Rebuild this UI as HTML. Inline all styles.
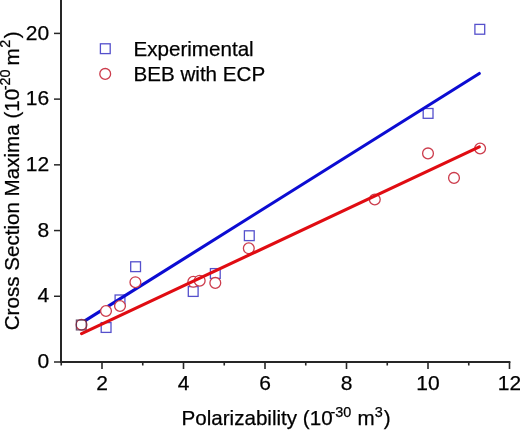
<!DOCTYPE html><html><head><meta charset="utf-8"><style>html,body{margin:0;padding:0;background:#fff;}svg{display:block;}text{font-family:"Liberation Sans",Arial,sans-serif;fill:#000;stroke:#000;stroke-width:0.25px;}</style></head><body>
<svg width="520" height="430" viewBox="0 0 520 430">
<rect width="520" height="430" fill="#fff"/>
<rect x="101.20" y="322.60" width="9.8" height="9.8" fill="none" stroke="#5550cc" stroke-width="1.3"/>
<rect x="115.10" y="295.00" width="9.8" height="9.8" fill="none" stroke="#5550cc" stroke-width="1.3"/>
<rect x="130.70" y="261.80" width="9.8" height="9.8" fill="none" stroke="#5550cc" stroke-width="1.3"/>
<rect x="188.30" y="286.60" width="9.8" height="9.8" fill="none" stroke="#5550cc" stroke-width="1.3"/>
<rect x="210.40" y="268.60" width="9.8" height="9.8" fill="none" stroke="#5550cc" stroke-width="1.3"/>
<rect x="244.40" y="230.80" width="9.8" height="9.8" fill="none" stroke="#5550cc" stroke-width="1.3"/>
<rect x="423.20" y="108.50" width="9.8" height="9.8" fill="none" stroke="#5550cc" stroke-width="1.3"/>
<rect x="474.90" y="24.40" width="9.8" height="9.8" fill="none" stroke="#5550cc" stroke-width="1.3"/>
<line x1="81.6" y1="322.9" x2="479.3" y2="73.5" stroke="#0c0cd2" stroke-width="3.1" stroke-linecap="round"/>
<circle cx="81.5" cy="324.7" r="5.4" fill="#fff" stroke="#cc3c4c" stroke-width="1.3"/>
<circle cx="106.0" cy="311.0" r="5.4" fill="#fff" stroke="#cc3c4c" stroke-width="1.3"/>
<circle cx="120.0" cy="306.0" r="5.4" fill="#fff" stroke="#cc3c4c" stroke-width="1.3"/>
<circle cx="135.4" cy="282.2" r="5.4" fill="#fff" stroke="#cc3c4c" stroke-width="1.3"/>
<circle cx="193.3" cy="281.8" r="5.4" fill="#fff" stroke="#cc3c4c" stroke-width="1.3"/>
<circle cx="199.7" cy="280.7" r="5.4" fill="#fff" stroke="#cc3c4c" stroke-width="1.3"/>
<circle cx="215.3" cy="282.9" r="5.4" fill="#fff" stroke="#cc3c4c" stroke-width="1.3"/>
<circle cx="248.8" cy="248.3" r="5.4" fill="#fff" stroke="#cc3c4c" stroke-width="1.3"/>
<circle cx="374.8" cy="199.5" r="5.4" fill="#fff" stroke="#cc3c4c" stroke-width="1.3"/>
<circle cx="428.0" cy="153.4" r="5.4" fill="#fff" stroke="#cc3c4c" stroke-width="1.3"/>
<circle cx="454.0" cy="177.9" r="5.4" fill="#fff" stroke="#cc3c4c" stroke-width="1.3"/>
<circle cx="480.1" cy="148.5" r="5.4" fill="#fff" stroke="#cc3c4c" stroke-width="1.3"/>
<rect x="76.40" y="320.10" width="9.8" height="9.8" fill="none" stroke="#4a3050" stroke-width="1.3" stroke-opacity="0.8"/>
<line x1="81.6" y1="333.7" x2="479.3" y2="146.8" stroke="#e00c12" stroke-width="3.1" stroke-linecap="round"/>
<g stroke="#262626" fill="none">
<line x1="61" y1="0" x2="61" y2="363" stroke-width="2"/>
<line x1="60" y1="362" x2="510.4" y2="362" stroke-width="2"/>
<line x1="54" y1="362.00" x2="61" y2="362.00" stroke-width="1.5"/>
<line x1="54" y1="296.28" x2="61" y2="296.28" stroke-width="1.5"/>
<line x1="54" y1="230.56" x2="61" y2="230.56" stroke-width="1.5"/>
<line x1="54" y1="164.84" x2="61" y2="164.84" stroke-width="1.5"/>
<line x1="54" y1="99.12" x2="61" y2="99.12" stroke-width="1.5"/>
<line x1="54" y1="33.40" x2="61" y2="33.40" stroke-width="1.5"/>
<line x1="61.25" y1="362" x2="61.25" y2="365.5" stroke-width="1.6"/>
<line x1="102.00" y1="362" x2="102.00" y2="369" stroke-width="1.6"/>
<line x1="142.75" y1="362" x2="142.75" y2="365.5" stroke-width="1.6"/>
<line x1="183.50" y1="362" x2="183.50" y2="369" stroke-width="1.6"/>
<line x1="224.25" y1="362" x2="224.25" y2="365.5" stroke-width="1.6"/>
<line x1="265.00" y1="362" x2="265.00" y2="369" stroke-width="1.6"/>
<line x1="305.75" y1="362" x2="305.75" y2="365.5" stroke-width="1.6"/>
<line x1="346.50" y1="362" x2="346.50" y2="369" stroke-width="1.6"/>
<line x1="387.25" y1="362" x2="387.25" y2="365.5" stroke-width="1.6"/>
<line x1="428.00" y1="362" x2="428.00" y2="369" stroke-width="1.6"/>
<line x1="468.75" y1="362" x2="468.75" y2="365.5" stroke-width="1.6"/>
<line x1="509.50" y1="362" x2="509.50" y2="369" stroke-width="1.6"/>
</g>
<g font-size="21" text-anchor="end">
<text x="49.2" y="368.10">0</text>
<text x="49.2" y="302.38">4</text>
<text x="49.2" y="236.66">8</text>
<text x="49.2" y="170.94">12</text>
<text x="49.2" y="105.22">16</text>
<text x="49.2" y="39.50">20</text>
</g>
<g font-size="21" text-anchor="middle">
<text x="102.00" y="389.9">2</text>
<text x="183.50" y="389.9">4</text>
<text x="265.00" y="389.9">6</text>
<text x="346.50" y="389.9">8</text>
<text x="428.00" y="389.9">10</text>
<text x="509.50" y="389.9">12</text>
</g>
<rect x="100.40" y="43.80" width="9.8" height="9.8" fill="none" stroke="#5550cc" stroke-width="1.3"/>
<circle cx="105.2" cy="73.9" r="5.4" fill="none" stroke="#cc3c4c" stroke-width="1.3"/>
<text x="133.5" y="55.9" font-size="20.6">Experimental</text>
<text x="133.5" y="80.9" font-size="20.6">BEB with ECP</text>
<text font-size="20.6" y="425.4"><tspan x="181.5">Polarizability (10</tspan><tspan x="330.4" y="417.1" font-size="14.4">-30</tspan><tspan x="357.4" y="425.4">m</tspan><tspan x="374.8" y="417.1" font-size="14.4">3</tspan><tspan x="383.7" y="425.4">)</tspan></text>
<text font-size="20.6" transform="translate(18.9,330.3) rotate(-90)" y="0"><tspan x="0">Cross Section Maxima (10</tspan><tspan x="240.1" y="-8.5" font-size="14.4">-20</tspan><tspan x="264.7" y="0">m</tspan><tspan x="282.55" y="-8.5" font-size="14.4">2</tspan><tspan x="292.0" y="0">)</tspan></text>
</svg></body></html>
